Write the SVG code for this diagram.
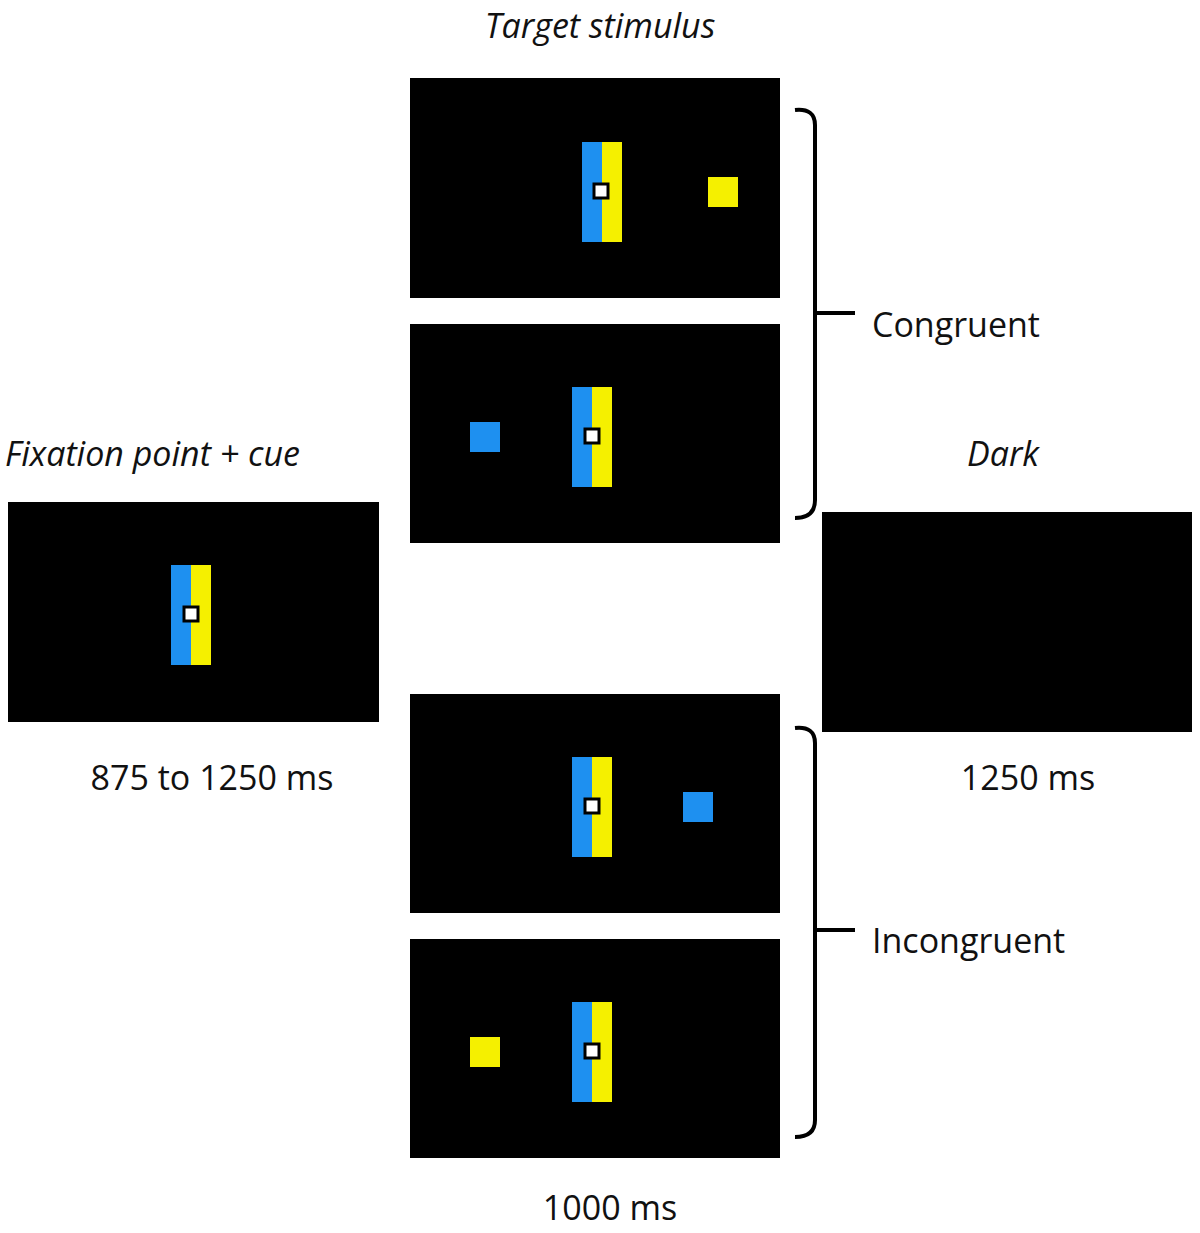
<svg xmlns="http://www.w3.org/2000/svg" width="1200" height="1233" viewBox="0 0 1200 1233">
<style>
.s{fill:#000}.b{fill:#1e90f0}.y{fill:#f5f000}.f{fill:#fff;stroke:#000;stroke-width:3}
text{font-family:"Open Sans","Liberation Sans",sans-serif;font-size:34px;fill:#111}
.i{font-style:italic}
.br{fill:none;stroke:#000;stroke-width:4}
</style>
<rect width="1200" height="1233" fill="#fff"/>
<text class="i" x="600" y="38" text-anchor="middle">Target stimulus</text>
<text class="i" x="5" y="466">Fixation point + cue</text>
<text class="i" x="1003" y="466" text-anchor="middle">Dark</text>
<text x="872" y="337">Congruent</text>
<text x="872" y="953">Incongruent</text>
<text x="212" y="790" text-anchor="middle">875 to 1250 ms</text>
<text x="1028" y="790" text-anchor="middle">1250 ms</text>
<text x="610" y="1220" text-anchor="middle">1000 ms</text>
<g id="fix"><rect class="s" x="8" y="502" width="371" height="220"/><rect class="b" x="171" y="565" width="20" height="100"/><rect class="y" x="191" y="565" width="20" height="100"/><rect class="f" x="184" y="607" width="14" height="14"/></g>
<g id="s1"><rect class="s" x="410" y="78" width="370" height="220"/><rect class="b" x="582" y="142" width="20" height="100"/><rect class="y" x="602" y="142" width="20" height="100"/><rect class="f" x="594" y="184" width="14" height="14"/><rect class="y" x="708" y="177" width="30" height="30"/></g>
<g id="s2"><rect class="s" x="410" y="324" width="370" height="219"/><rect class="b" x="572" y="387" width="20" height="100"/><rect class="y" x="592" y="387" width="20" height="100"/><rect class="f" x="585" y="429" width="14" height="14"/><rect class="b" x="470" y="422" width="30" height="30"/></g>
<g id="s3"><rect class="s" x="410" y="694" width="370" height="219"/><rect class="b" x="572" y="757" width="20" height="100"/><rect class="y" x="592" y="757" width="20" height="100"/><rect class="f" x="585" y="799" width="14" height="14"/><rect class="b" x="683" y="792" width="30" height="30"/></g>
<g id="s4"><rect class="s" x="410" y="939" width="370" height="219"/><rect class="b" x="572" y="1002" width="20" height="100"/><rect class="y" x="592" y="1002" width="20" height="100"/><rect class="f" x="585" y="1044" width="14" height="14"/><rect class="y" x="470" y="1037" width="30" height="30"/></g>
<g id="dark"><rect class="s" x="822" y="512" width="370" height="220"/></g>
<g id="connectors">
<path class="br" d="M795,110 Q815,108 815,125 V500 Q815,518 795,518 M815,313 H855"/>
<path class="br" d="M795,728 Q815,726 815,743 V1120 Q815,1137 795,1137 M815,930 H855"/>
</g>
</svg>
